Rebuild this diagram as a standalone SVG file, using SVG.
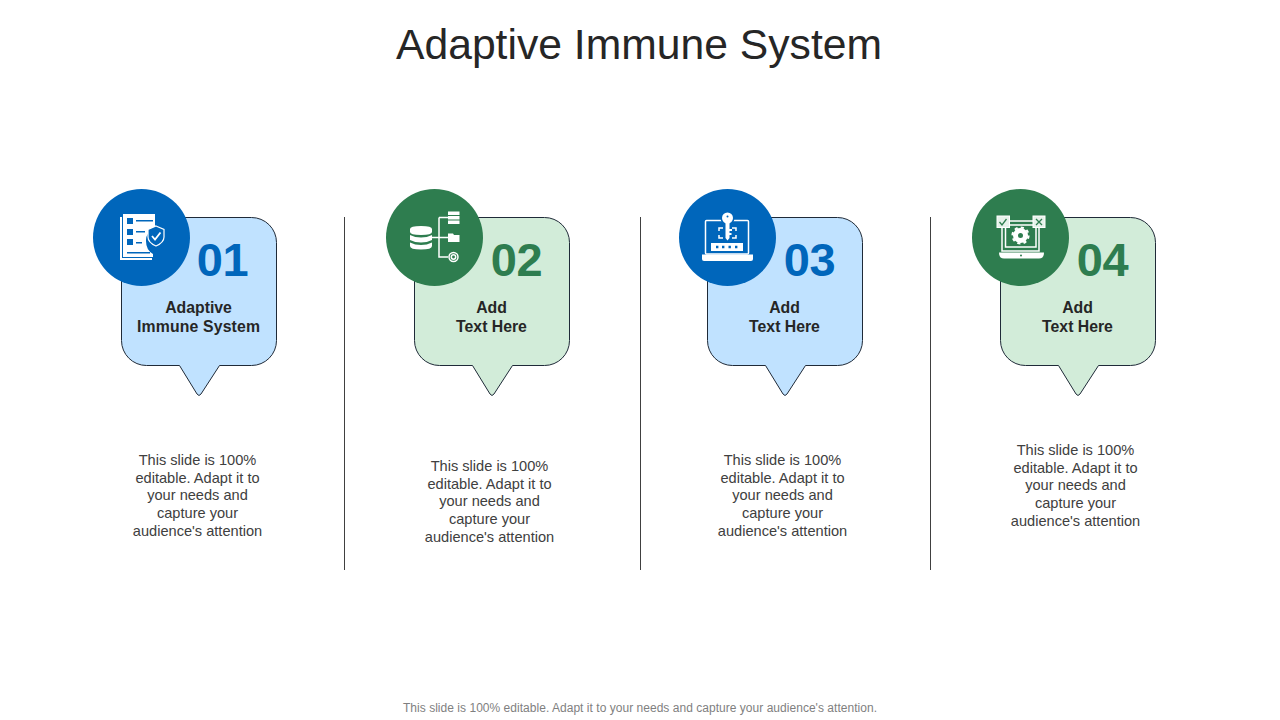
<svg xmlns="http://www.w3.org/2000/svg" width="1280" height="720" viewBox="0 0 1280 720">
<style>
text{font-family:"Liberation Sans",Arial,sans-serif;text-anchor:middle}
.title{font-size:42.67px;fill:#262626}
.num{font-size:47px;font-weight:700;letter-spacing:-.5px}
.head{font-size:15.8px;font-weight:700;fill:#262626}
.body{font-size:14.6px;fill:#404040}
.foot{font-size:12px;fill:#7f7f7f}
.sep{stroke:#404040;stroke-width:1;fill:none}
.bubble{stroke:#1f2a38;stroke-width:1}
.blue{fill:#0066bb}.green{fill:#2e7d4f}
.lblue{fill:#c0e2ff}.lgreen{fill:#d2ecd9}
.iw{fill:#fff}.il{stroke:#fff;fill:none;stroke-width:1.5}
</style>
<defs>
<path id="b" d="M146.500 217.500H251.500A25 25 0 0 1 276.500 242.500V340.500A25 25 0 0 1 251.500 365.500H219.500L201 394Q199 397 197 394L179.500 365.500H146.500A25 25 0 0 1 121.500 340.500V242.500A25 25 0 0 1 146.500 217.500Z"/>
</defs>
<rect width="1280" height="720" fill="#fff"/>
<text class="title" x="639" y="59">Adaptive Immune System</text>
<g id="connectors">
<line class="sep" x1="344.500" y1="217" x2="344.500" y2="570"/>
<line class="sep" x1="640.500" y1="217" x2="640.500" y2="570"/>
<line class="sep" x1="930.500" y1="217" x2="930.500" y2="570"/>
</g>
<g id="node1">
<use href="#b" class="bubble lblue"/>
<circle class="blue" cx="141.500" cy="237.500" r="48.500"/>
<g>
<path class="iw" d="M120 217H122V258H152V260H120Z"/>
<path class="iw" d="M123 214H155V228A13 13 0 0 0 146 241Q146 250 153 254V257H123Z"/>
<path class="blue" d="M127 218h6v6h-6zM127 229h6v6h-6zM127 239h6v6h-6zM136 220h17v1.500h-17zM136 231h9v1.500h-9zM136 242h6v1.500h-6zM127 252h23v1.500h-23z"/>
<path d="M156 226L164 229.500V237Q164 242.500 156 246Q148 242.500 148 237V229.500Z" fill="#0066bb" stroke="#fff" stroke-width="1.200"/>
<path d="M152 236L155 239.500L160.500 232.500" fill="none" stroke="#fff" stroke-width="1.800"/>
</g>
<text class="num blue" x="222.500" y="276">01</text>
<text class="head" x="198.500" y="313">Adaptive</text>
<text class="head" x="198.500" y="332" textLength="123">Immune System</text>
<text class="body" x="197.500" y="465">This slide is 100%</text>
<text class="body" x="197.500" y="483">editable. Adapt it to</text>
<text class="body" x="197.500" y="500">your needs and</text>
<text class="body" x="197.500" y="518">capture your</text>
<text class="body" x="197.500" y="536">audience's attention</text>
</g>
<g id="node2">
<use href="#b" x="293" class="bubble lgreen"/>
<circle class="green" cx="434.500" cy="237.500" r="48.500"/>
<g>
<path class="iw" d="M410 229Q410 226 421 226Q432 226 432 229V232Q432 235 421 235Q410 235 410 232ZM410 235Q415 237.500 421 237.500Q427 237.500 432 235V240Q427 242.500 421 242.500Q415 242.500 410 240ZM410 242.500Q415 245 421 245Q427 245 432 242.500V246Q432 249.500 421 249.500Q410 249.500 410 246Z"/>
<path class="il" d="M432 237.500H439M439 217.500V257H448M439 217.500H448M439 237.500H448" stroke-width=".7"/>
<path class="iw" d="M448 211.500h11.500v3.500h-11.500zM448 216h11.500v3.500h-11.500zM448 220.500h11.500v3.500h-11.500zM448 233.500h5l1 1.500h5.500v7h-11.500z"/>
<circle class="il" cx="453.500" cy="257" r="4.500" stroke-width=".9"/>
<circle class="il" cx="453.500" cy="257" r="2.200" stroke-width=".9"/>
</g>
<text class="num green" x="516.500" y="276">02</text>
<text class="head" x="491.500" y="313">Add</text>
<text class="head" x="491.500" y="332">Text Here</text>
<text class="body" x="489.500" y="471">This slide is 100%</text>
<text class="body" x="489.500" y="489">editable. Adapt it to</text>
<text class="body" x="489.500" y="506">your needs and</text>
<text class="body" x="489.500" y="524">capture your</text>
<text class="body" x="489.500" y="542">audience's attention</text>
</g>
<g id="node3">
<use href="#b" x="586" class="bubble lblue"/>
<circle class="blue" cx="727.500" cy="237.500" r="48.500"/>
<g>
<rect class="il" x="705.500" y="220.500" width="43" height="33.500" rx="1"/>
<path class="iw" d="M702 254.500H753V259Q753 261 751 261H704Q702 261 702 259Z"/>
<circle class="blue" cx="727.500" cy="218" r="7"/>
<circle class="iw" cx="727.500" cy="218" r="5.500"/>
<circle class="blue" cx="727.500" cy="216.500" r="1"/>
<path class="iw" d="M725.500 222h4v16l-2 2.500-2-2.500zM729 229h3v2h-3zM729 233h2.500v2h-2.500z"/>
<path class="iw" d="M711 243h32v8h-32z"/>
<path class="blue" d="M716 245.800h2.400v2.400h-2.400zM722 245.800h2.400v2.400h-2.400zM728.500 245.800h2.400v2.400h-2.400zM735 245.800h2.400v2.400h-2.400z"/>
<path class="il" d="M723 228h-4v3M732 228h4v3M723 238h-4v-3M732 238h4v-3" stroke-width=".9"/>
</g>
<text class="num blue" x="809.500" y="276">03</text>
<text class="head" x="784.500" y="313">Add</text>
<text class="head" x="784.500" y="332">Text Here</text>
<text class="body" x="782.500" y="465">This slide is 100%</text>
<text class="body" x="782.500" y="483">editable. Adapt it to</text>
<text class="body" x="782.500" y="500">your needs and</text>
<text class="body" x="782.500" y="518">capture your</text>
<text class="body" x="782.500" y="536">audience's attention</text>
</g>
<g id="node4">
<use href="#b" x="879" class="bubble lgreen"/>
<circle class="green" cx="1020.500" cy="237.500" r="48.500"/>
<g>
<rect class="il" x="1002" y="221" width="37" height="30" stroke-width="2"/>
<path class="il" d="M1005.500 225H1036V247H1005.500Z" stroke-width=".8"/>
<path class="iw" d="M999 252.500H1044Q1044 258.500 1039 258.500H1004Q999 258.500 999 252.500Z"/>
<circle class="green" cx="1021" cy="255.500" r="1"/>
<rect x="997" y="216" width="12.500" height="11.500" fill="#e6f2ea" stroke="#fff"/>
<path d="M999.500 222L1002 225L1006.500 219" fill="none" stroke="#2e7d4f" stroke-width="1.300"/>
<rect x="1033" y="216" width="12" height="11.500" fill="#e6f2ea" stroke="#fff"/>
<path d="M1036 219L1042 225M1042 219L1036 225" fill="none" stroke="#2e7d4f" stroke-width="1.300"/>
<circle cx="1020.500" cy="235.500" r="5" fill="none" stroke="#fff" stroke-width="5"/>
<circle cx="1020.500" cy="235.500" r="8" fill="none" stroke="#fff" stroke-width="2.200" stroke-dasharray="3.140 3.140"/>
</g>
<text class="num green" x="1102.500" y="276">04</text>
<text class="head" x="1077.500" y="313">Add</text>
<text class="head" x="1077.500" y="332">Text Here</text>
<text class="body" x="1075.500" y="455">This slide is 100%</text>
<text class="body" x="1075.500" y="473">editable. Adapt it to</text>
<text class="body" x="1075.500" y="490">your needs and</text>
<text class="body" x="1075.500" y="508">capture your</text>
<text class="body" x="1075.500" y="526">audience's attention</text>
</g>
<text class="foot" x="640" y="712" textLength="474">This slide is 100% editable. Adapt it to your needs and capture your audience's attention.</text>
</svg>
